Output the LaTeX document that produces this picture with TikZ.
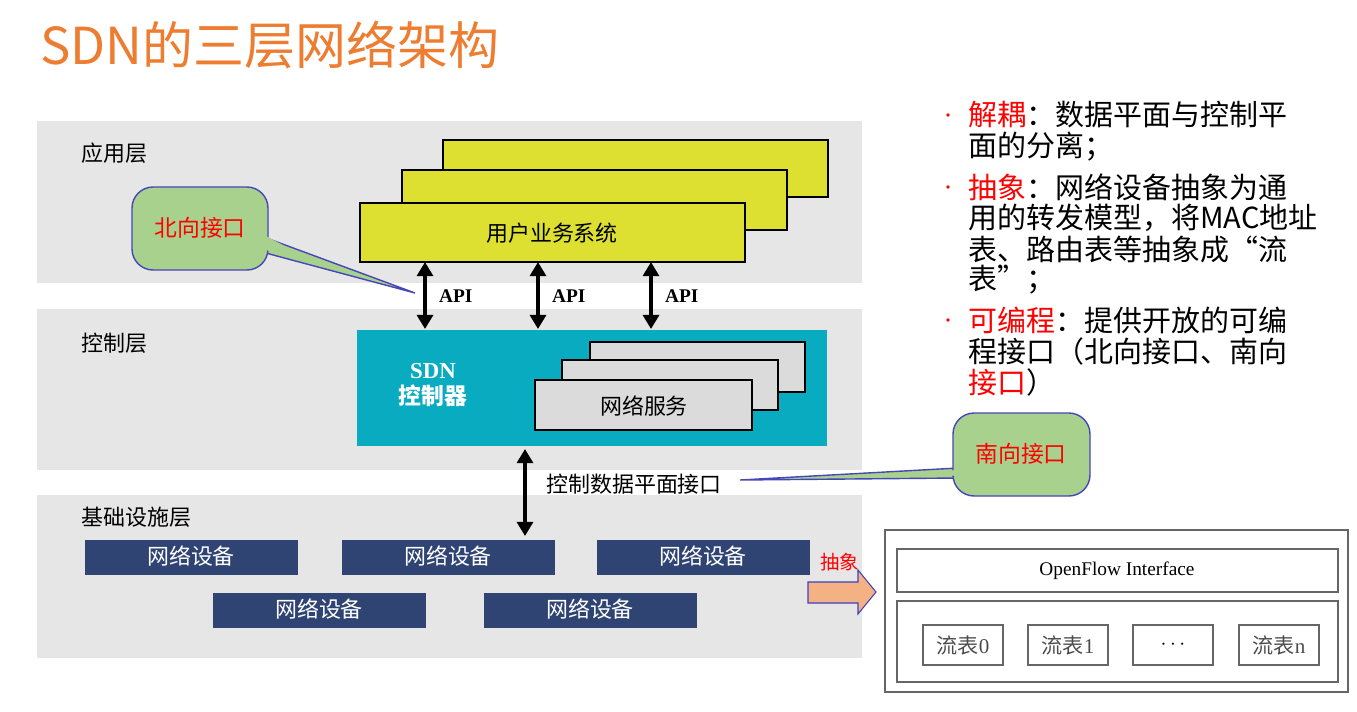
\documentclass[tikz,border=0pt]{standalone}
\usepackage{fontspec}
\setmainfont{Liberation Serif}
\newfontfamily\cjk{Noto Sans CJK SC}
\usetikzlibrary{arrows.meta}
\definecolor{band}{HTML}{E7E6E6}
\definecolor{ylw}{HTML}{DDE031}
\definecolor{teal}{HTML}{08ABC0}
\definecolor{navy}{HTML}{2F4473}
\definecolor{grn}{HTML}{A9D18E}
\definecolor{org}{HTML}{ED7D31}
\definecolor{peach}{HTML}{F4B183}
\tikzset{
  ylwbox/.style={fill=ylw,draw=black,line width=0.8pt},
  svcbox/.style={fill=black!14,draw=black,line width=0.8pt},
  devbox/.style={text=white,font=\cjk\fontsize{12.5}{14}\selectfont},
  lbl/.style={font=\cjk\fontsize{12.5}{14}\selectfont,anchor=west},
  darrow/.style={{Triangle[width=9pt,length=8pt]}-{Triangle[width=9pt,length=8pt]},line width=2.8pt},
  callout/.style={fill=grn,draw=blue!45!gray,line width=0.8pt,rounded corners=12pt},
  ofbox/.style={draw=black!60,line width=0.7pt},
  ftbox/.style={draw=black!60,line width=0.7pt,text=black!70,font=\cjk\fontsize{12}{14}\selectfont,minimum width=1.6cm,minimum height=0.8cm},
  bul/.style={font=\cjk\fontsize{16.5}{18}\selectfont,anchor=west},
}
\begin{document}
\begin{tikzpicture}[x=0.02cm,y=-0.02cm]
\useasboundingbox (0,0) rectangle (1357,711);
\node[anchor=west,text=org,font=\cjk\fontsize{29}{32}\selectfont] (title) at (34,45) {SDN的三层网络架构};
% bands
\fill[band] (37,121) rectangle (862,283);
\fill[band] (37,309) rectangle (862,470);
\fill[band] (37,495) rectangle (862,658);
\node[lbl] (l1) at (75,153) {应用层};
\node[lbl] (l2) at (75,343) {控制层};
\node[lbl] (l3) at (75,517) {基础设施层};
% yellow
\draw[ylwbox] (443,140) rectangle (828,197);
\draw[ylwbox] (402,170) rectangle (787,230);
\draw[ylwbox] (360,203) rectangle (745,262);
\node[font=\cjk\fontsize{12.5}{14}\selectfont] (app) at (552,233) {用户业务系统};
% control
\fill[teal] (357,330) rectangle (827,446);
\node[text=white,font=\bfseries\fontsize{13}{16}\selectfont,align=center] (sdn) at (433,385) {SDN\\[-1pt]{\cjk\bfseries 控制器}};
\draw[svcbox] (590,342) rectangle (805,392);
\draw[svcbox] (562,360) rectangle (778,410);
\draw[svcbox] (535,380) rectangle (752,430);
\node[font=\cjk\fontsize{12.5}{14}\selectfont] (svc) at (644,406) {网络服务};
% API arrows
\foreach \x/\n in {425/a,538/b,651/c}{
  \coordinate (t\n) at (\x,262); \coordinate (b\n) at (\x,329);
  \draw[darrow] (t\n) -- (b\n);
  \node[anchor=west,font=\bfseries\fontsize{11}{13}\selectfont] (api\n) at (\x+8,296) {API};
}
\coordinate (ct) at (525,449); \coordinate (cb) at (525,536);
\draw[darrow] (ct) -- (cb);
\node[lbl] (cdp) at (540,484) {控制数据平面接口};
% devices
\foreach \xa/\ya/\n in {85/540/d1,342/540/d2,597/540/d3,213/593/d4,484/593/d5}{
  \fill[navy] (\xa,\ya) rectangle (\xa+213,\ya+35);
  \node[devbox] (\n) at (\xa+106,\ya+16) {网络设备};
}
% callouts
\draw[blue!45!gray,line width=0.8pt,fill=grn] (250,232) -- (415,293) -- (262,252) -- cycle;
\draw[callout] (132,187) rectangle (268,270);
\fill[grn] (262,234) -- (300,254) -- (262,250) -- cycle;
\node[text=red,font=\cjk\fontsize{13}{15}\selectfont] (nb) at (200,228) {北向接口};
\draw[blue!45!gray,line width=0.8pt,fill=grn] (958,468) -- (740,480) -- (958,478) -- cycle;
\draw[callout] (953,413) rectangle (1090,496);
\fill[grn] (960,469.5) -- (930,473) -- (960,476.5) -- cycle;
\node[text=red,font=\cjk\fontsize{13}{15}\selectfont] (sb) at (1021,454) {南向接口};
% abstraction arrow
\node[text=red,anchor=west,font=\cjk\fontsize{11}{13}\selectfont] (abs) at (814,562) {抽象};
\draw[fill=peach,draw=blue!50!gray,line width=0.6pt] (808,582) -- (858,582) -- (858,570) -- (876,592) -- (858,614) -- (858,603) -- (808,603) -- cycle;
% openflow
\draw[ofbox] (885,530) rectangle (1348,692);
\draw[ofbox] (897,549) rectangle (1338,592);
\node[font=\fontsize{11}{13}\selectfont] (ofi) at (1117,571) {OpenFlow Interface};
\draw[ofbox] (897,601) rectangle (1338,682);
\node[ftbox] (f0) at (963,645) {流表{\rmfamily 0}};
\node[ftbox] (f1) at (1068,645) {流表{\rmfamily 1}};
\node[ftbox,text=black] (f2) at (1173,645) {\textbf{$\cdots$}};
\node[ftbox] (f3) at (1279,645) {流表{\rmfamily n}};
% bullets
\foreach \y in {115,187,320}{\fill[red] (948,\y) circle (1.8);}
\node[bul] (b1) at (962,115) {\textcolor{red}{解耦}：数据平面与控制平};
\node[bul] (b1b) at (962,147) {面的分离；};
\node[bul] (b2) at (962,187) {\textcolor{red}{抽象}：网络设备抽象为通};
\node[bul] (b2b) at (962,218) {用的转发模型，将MAC地址};
\node[bul] (b2c) at (962,249) {表、路由表等抽象成“流};
\node[bul] (b2d) at (962,280) {表”；};
\node[bul] (b3) at (962,320) {\textcolor{red}{可编程}：提供开放的可编};
\node[bul] (b3b) at (962,351) {程接口（北向接口、南向};
\node[bul] (b3c) at (962,382) {\textcolor{red}{接口}）};
\end{tikzpicture}
\end{document}
